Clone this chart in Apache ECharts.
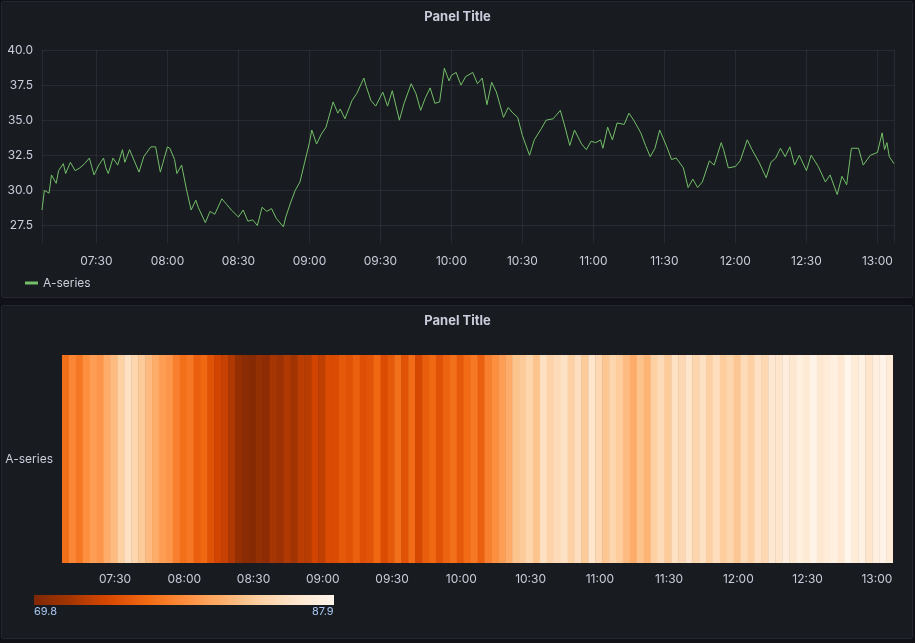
<!DOCTYPE html>
<html><head><meta charset="utf-8">
<script src="https://cdn.jsdelivr.net/npm/echarts@6/dist/echarts.min.js"></script>
<style>html,body{margin:0;padding:0;background:#111217;}#c{width:915px;height:643px;}</style>
</head><body><div id="c"></div>
<script>
const lineTimes = ["07:07","07:08","07:10","07:11","07:13","07:14","07:16","07:17","07:19","07:21","07:23","07:25","07:27","07:28","07:29","07:31","07:33","07:34","07:35","07:37","07:39","07:41","07:42","07:44","07:46","07:48","07:50","07:53","07:55","07:57","07:58","08:00","08:01","08:03","08:04","08:06","08:08","08:10","08:12","08:13","08:16","08:18","08:20","08:23","08:25","08:27","08:30","08:32","08:34","08:36","08:38","08:40","08:42","08:44","08:46","08:49","08:50","08:52","08:54","08:56","08:58","09:00","09:01","09:03","09:05","09:07","09:10","09:12","09:13","09:15","09:18","09:20","09:23","09:24","09:26","09:28","09:31","09:33","09:35","09:38","09:40","09:43","09:45","09:47","09:49","09:51","09:53","09:55","09:57","09:59","10:00","10:02","10:04","10:06","10:09","10:11","10:13","10:15","10:17","10:19","10:22","10:24","10:26","10:28","10:30","10:33","10:35","10:38","10:40","10:43","10:46","10:48","10:50","10:52","10:55","10:57","10:59","11:01","11:03","11:04","11:06","11:08","11:10","11:13","11:15","11:17","11:20","11:22","11:24","11:26","11:28","11:31","11:33","11:35","11:38","11:40","11:42","11:44","11:46","11:49","11:51","11:54","11:55","11:57","12:00","12:02","12:05","12:07","12:10","12:13","12:15","12:17","12:19","12:21","12:23","12:25","12:27","12:30","12:32","12:35","12:38","12:40","12:43","12:45","12:47","12:49","12:52","12:54","12:57","13:00","13:02","13:03","13:04","13:05","13:07"];
const lineValues = [28.6,30.0,29.8,31.1,30.5,31.4,31.9,31.2,32.0,31.4,31.6,31.9,32.3,31.7,31.1,31.8,32.3,31.6,31.2,32.3,31.8,32.9,32.0,32.9,32.1,31.3,32.4,33.1,33.1,31.3,31.9,33.1,33.0,32.2,31.2,31.8,30.1,28.6,29.3,28.8,27.7,28.5,28.3,29.4,29.0,28.6,28.1,28.6,27.8,27.9,27.5,28.8,28.5,28.7,28.0,27.4,28.1,29.1,30.0,30.6,32.0,33.4,34.3,33.3,34.0,34.5,36.3,35.5,35.8,35.1,36.4,36.9,38.0,37.4,36.4,36.0,37.0,36.0,37.1,35.0,36.2,37.6,36.9,35.7,36.6,37.3,36.2,36.3,38.7,37.8,38.2,38.4,37.5,38.1,38.4,37.6,38.0,36.1,37.7,37.0,35.2,35.9,35.5,35.2,33.9,32.5,33.6,34.4,35.0,35.1,35.7,34.5,33.2,34.3,33.3,32.9,33.5,33.4,33.6,33.0,34.5,33.6,34.8,34.7,35.5,35.0,34.1,33.2,32.4,33.0,34.3,33.1,32.2,32.3,31.6,30.2,30.8,30.2,30.6,32.1,31.8,33.4,32.9,31.6,31.7,32.1,33.6,32.9,32.0,30.9,32.0,32.3,33.0,32.4,33.1,31.8,32.5,31.4,32.5,31.7,30.6,31.1,29.7,31.0,30.4,33.0,33.0,31.8,32.5,32.7,34.1,32.9,33.4,32.4,31.9];
const yTicks = [27.5,30.0,32.5,35.0,37.5,40.0];
const heatStart = "07:07";
const heatStepMin = 3;
const heatValues = [77,78.5,77.5,79,80,79.5,81,82,83.5, 85,84,83,82,81,80,79.5,78,77, 77.5,76,76.5,75,74,73.5,72.5,71,70.5, 70.2,71,70.6,72,71.5,72.5,71.8,73,72.8, 74,73.2,74.5,74.5,75.5,75,76,74.8,75.2, 76.5,74.5,75.5,77,75,76.8,74.2,75.8,76.5, 75,76.2,77,75.5,76.8,77.5,76,78,79, 80,81,82.5,83,84,82.5,85,83.8,84.5, 85.2,83.5,84.8,83,85.5,84.2,82.8,84,83.2, 82,81,82.5,81.5,83.5,84.5,83,85,84.2, 85.5,84,85,83.5,84.8,83.2,84,82.8,84.5, 83.5,85,84.2,86,85.5,86.8,85.8,87,86.2, 87.5,85.8,86.5,87.2,86,87.9,86.5,87.4,85.5, 86.8,87.5,86.4,87.2];
const heatMin = 69.8, heatMax = 87.9;
const seriesName = "A-series";
const xStart = "07:07", xEnd = "13:07";

function ts(s){const [h,m]=s.split(':').map(Number);return Date.UTC(2024,0,1,h,m);}
const lineData = lineTimes.map((t,i)=>[ts(t),lineValues[i]]);
const heatData = heatValues.map((v,i)=>[ts(heatStart)+i*heatStepMin*60000, 0, v]);
const oranges = ['#7f2704','#a63603','#d94801','#f16913','#fd8d3c','#fdae6b','#fdd0a2','#fee6ce','#fff5eb'];
const txt = '#ccccdc';
const gridColor = 'rgba(204,204,220,0.09)';
const xCommon = {type:'time',min:ts(xStart),max:ts(xEnd),splitNumber:10,
  axisLine:{show:false},axisTick:{show:false},splitLine:{show:true,lineStyle:{color:gridColor}},
  axisLabel:{color:txt,fontSize:12,fontFamily:'Inter',formatter:'{HH}:{mm}',hideOverlap:true}};

const chart = echarts.init(document.getElementById('c'));
chart.setOption({
  backgroundColor:'#111217',
  useUTC:true,
  animation:false,
  graphic:[
    {type:'rect',shape:{x:1.5,y:1.5,width:911,height:296,r:2},style:{fill:'#181b1f',stroke:'#24272e'},z:-10},
    {type:'rect',shape:{x:1.5,y:305.5,width:911,height:333,r:2},style:{fill:'#181b1f',stroke:'#24272e'},z:-10},
    {type:'text',left:'center',top:11,style:{text:'Panel Title',fill:txt,font:'bold 13px Inter'}},
    {type:'text',left:'center',top:315,style:{text:'Panel Title',fill:txt,font:'bold 13px Inter'}},
    {type:'rect',shape:{x:34,y:595,width:300,height:10},style:{fill:new echarts.graphic.LinearGradient(0,0,1,0,oranges.map((c,i)=>({offset:i/(oranges.length-1),color:c})))}},
    {type:'text',left:34,top:606,style:{text:String(heatMin),fill:'#a9c8f5',font:'11px Inter'}},
    {type:'text',left:312,top:606,style:{text:String(heatMax),fill:'#a9c8f5',font:'11px Inter'}}
  ],
  legend:{show:true,left:20,top:272,data:[seriesName],icon:'rect',itemWidth:13,itemHeight:3,itemGap:8,
    textStyle:{color:txt,fontSize:12,fontFamily:'Inter'}},
  visualMap:{show:false,type:'continuous',min:heatMin,max:heatMax,dimension:2,seriesIndex:1,inRange:{color:oranges}},
  grid:[
    {left:42,right:21,top:50,height:193},
    {left:62,right:22,top:355,height:208}
  ],
  xAxis:[
    {...xCommon,gridIndex:0,axisLabel:{...xCommon.axisLabel,margin:12}},
    {...xCommon,gridIndex:1,splitLine:{show:false},axisLabel:{...xCommon.axisLabel,margin:10}}
  ],
  yAxis:[
    {type:'value',gridIndex:0,min:26.25,max:40,interval:1.25,axisLine:{show:false},axisTick:{show:false},
      splitLine:{show:false},
      axisLabel:{color:txt,fontSize:12,fontFamily:'Inter',margin:9,showMinLabel:false,
        formatter:v=>yTicks.some(t=>Math.abs(t-v)<1e-6)?v.toFixed(1):''}},
    {type:'category',gridIndex:1,data:[seriesName],axisLine:{show:false},axisTick:{show:false},
      axisLabel:{color:txt,fontSize:12,fontFamily:'Inter',margin:9}}
  ],
  series:[
    {name:seriesName,type:'line',xAxisIndex:0,yAxisIndex:0,data:lineData,showSymbol:false,
      lineStyle:{color:'#73bf69',width:1},itemStyle:{color:'#73bf69'},
      markLine:{silent:true,symbol:'none',label:{show:false},lineStyle:{color:gridColor,type:'solid',width:1},
        data:yTicks.map(v=>({yAxis:v}))}},
    {type:'custom',xAxisIndex:1,yAxisIndex:1,data:heatData,
      renderItem:function(params,api){
        const t=api.value(0);
        const p0=api.coord([t,0]);
        const p1=api.coord([t+heatStepMin*60000,0]);
        const h=api.size([0,1])[1];
        const r=echarts.graphic.clipRectByRect({x:p0[0],y:p0[1]-h/2,width:p1[0]-p0[0]+0.5,height:h},
          {x:params.coordSys.x,y:params.coordSys.y,width:params.coordSys.width,height:params.coordSys.height});
        if(!r) return;
        return {type:'rect',shape:r,style:{fill:api.visual('color')}};
      }}
  ]
});
</script></body></html>
